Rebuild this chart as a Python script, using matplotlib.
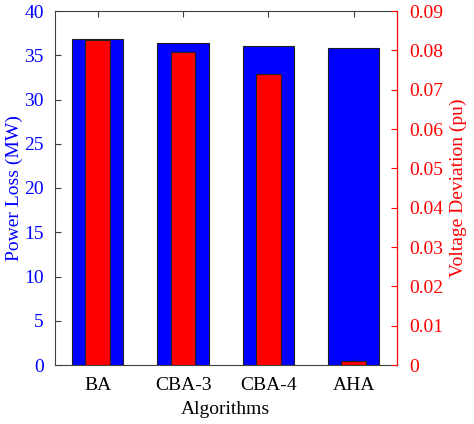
import numpy as np
import matplotlib.pyplot as plt

plt.rcParams['font.family'] = ['Liberation Serif', 'DejaVu Serif']

algorithms = ["BA", "CBA-3", "CBA-4", "AHA"]
power_loss = [36.8, 36.35, 36.05, 35.8]
voltage_dev = [0.0826, 0.0796, 0.0740, 0.0009]

x = np.arange(1, len(algorithms) + 1)

fig = plt.figure(figsize=(4.74, 4.24), dpi=100)
ax = fig.add_axes([55 / 474, 1 - 365 / 424, 341.5 / 474, 354 / 424])

ax.bar(x, power_loss, width=0.6, color="#0000ff", edgecolor="#202020", linewidth=0.8)
ax.set_xlim(0.5, 4.5)
ax.set_ylim(0, 40)
ax.set_yticks(np.arange(0, 41, 5))
ax.set_xticks(x)
ax.set_xticklabels(algorithms)
ax.set_xlabel("Algorithms", fontsize=14, labelpad=5)
ax.set_ylabel("Power Loss (MW)", fontsize=14, color="#0000ff", labelpad=1)
ax.tick_params(axis="y", labelcolor="#0000ff", color="#404040", labelsize=14,
               direction="in", length=4, pad=8)
ax.tick_params(axis="x", direction="in", length=4, top=True, color="#404040",
               labelsize=14, pad=9)
for s in ["top", "bottom", "left"]:
    ax.spines[s].set_color("#404040")
    ax.spines[s].set_linewidth(0.8)

ax2 = ax.twinx()
ax2.bar(x, voltage_dev, width=0.29, color="#ff0000", edgecolor="#202020", linewidth=0.8)
ax2.set_ylim(0, 0.09)
ax2.set_yticks(np.arange(0, 0.091, 0.01))
ax2.set_yticklabels(["0"] + [f"{v:.2f}" for v in np.arange(0.01, 0.091, 0.01)])
ax2.set_ylabel("Voltage Deviation (pu)", fontsize=14, color="#ff0000", labelpad=5)
ax2.tick_params(axis="y", colors="#ff0000", labelsize=14, direction="in", length=4, pad=9)
ax2.spines["right"].set_color("#ff0000")
ax2.spines["right"].set_linewidth(0.8)
ax2.spines["left"].set_visible(False)
ax2.spines["top"].set_visible(False)
ax2.spines["bottom"].set_visible(False)

fig.savefig("out.png", dpi=100)
